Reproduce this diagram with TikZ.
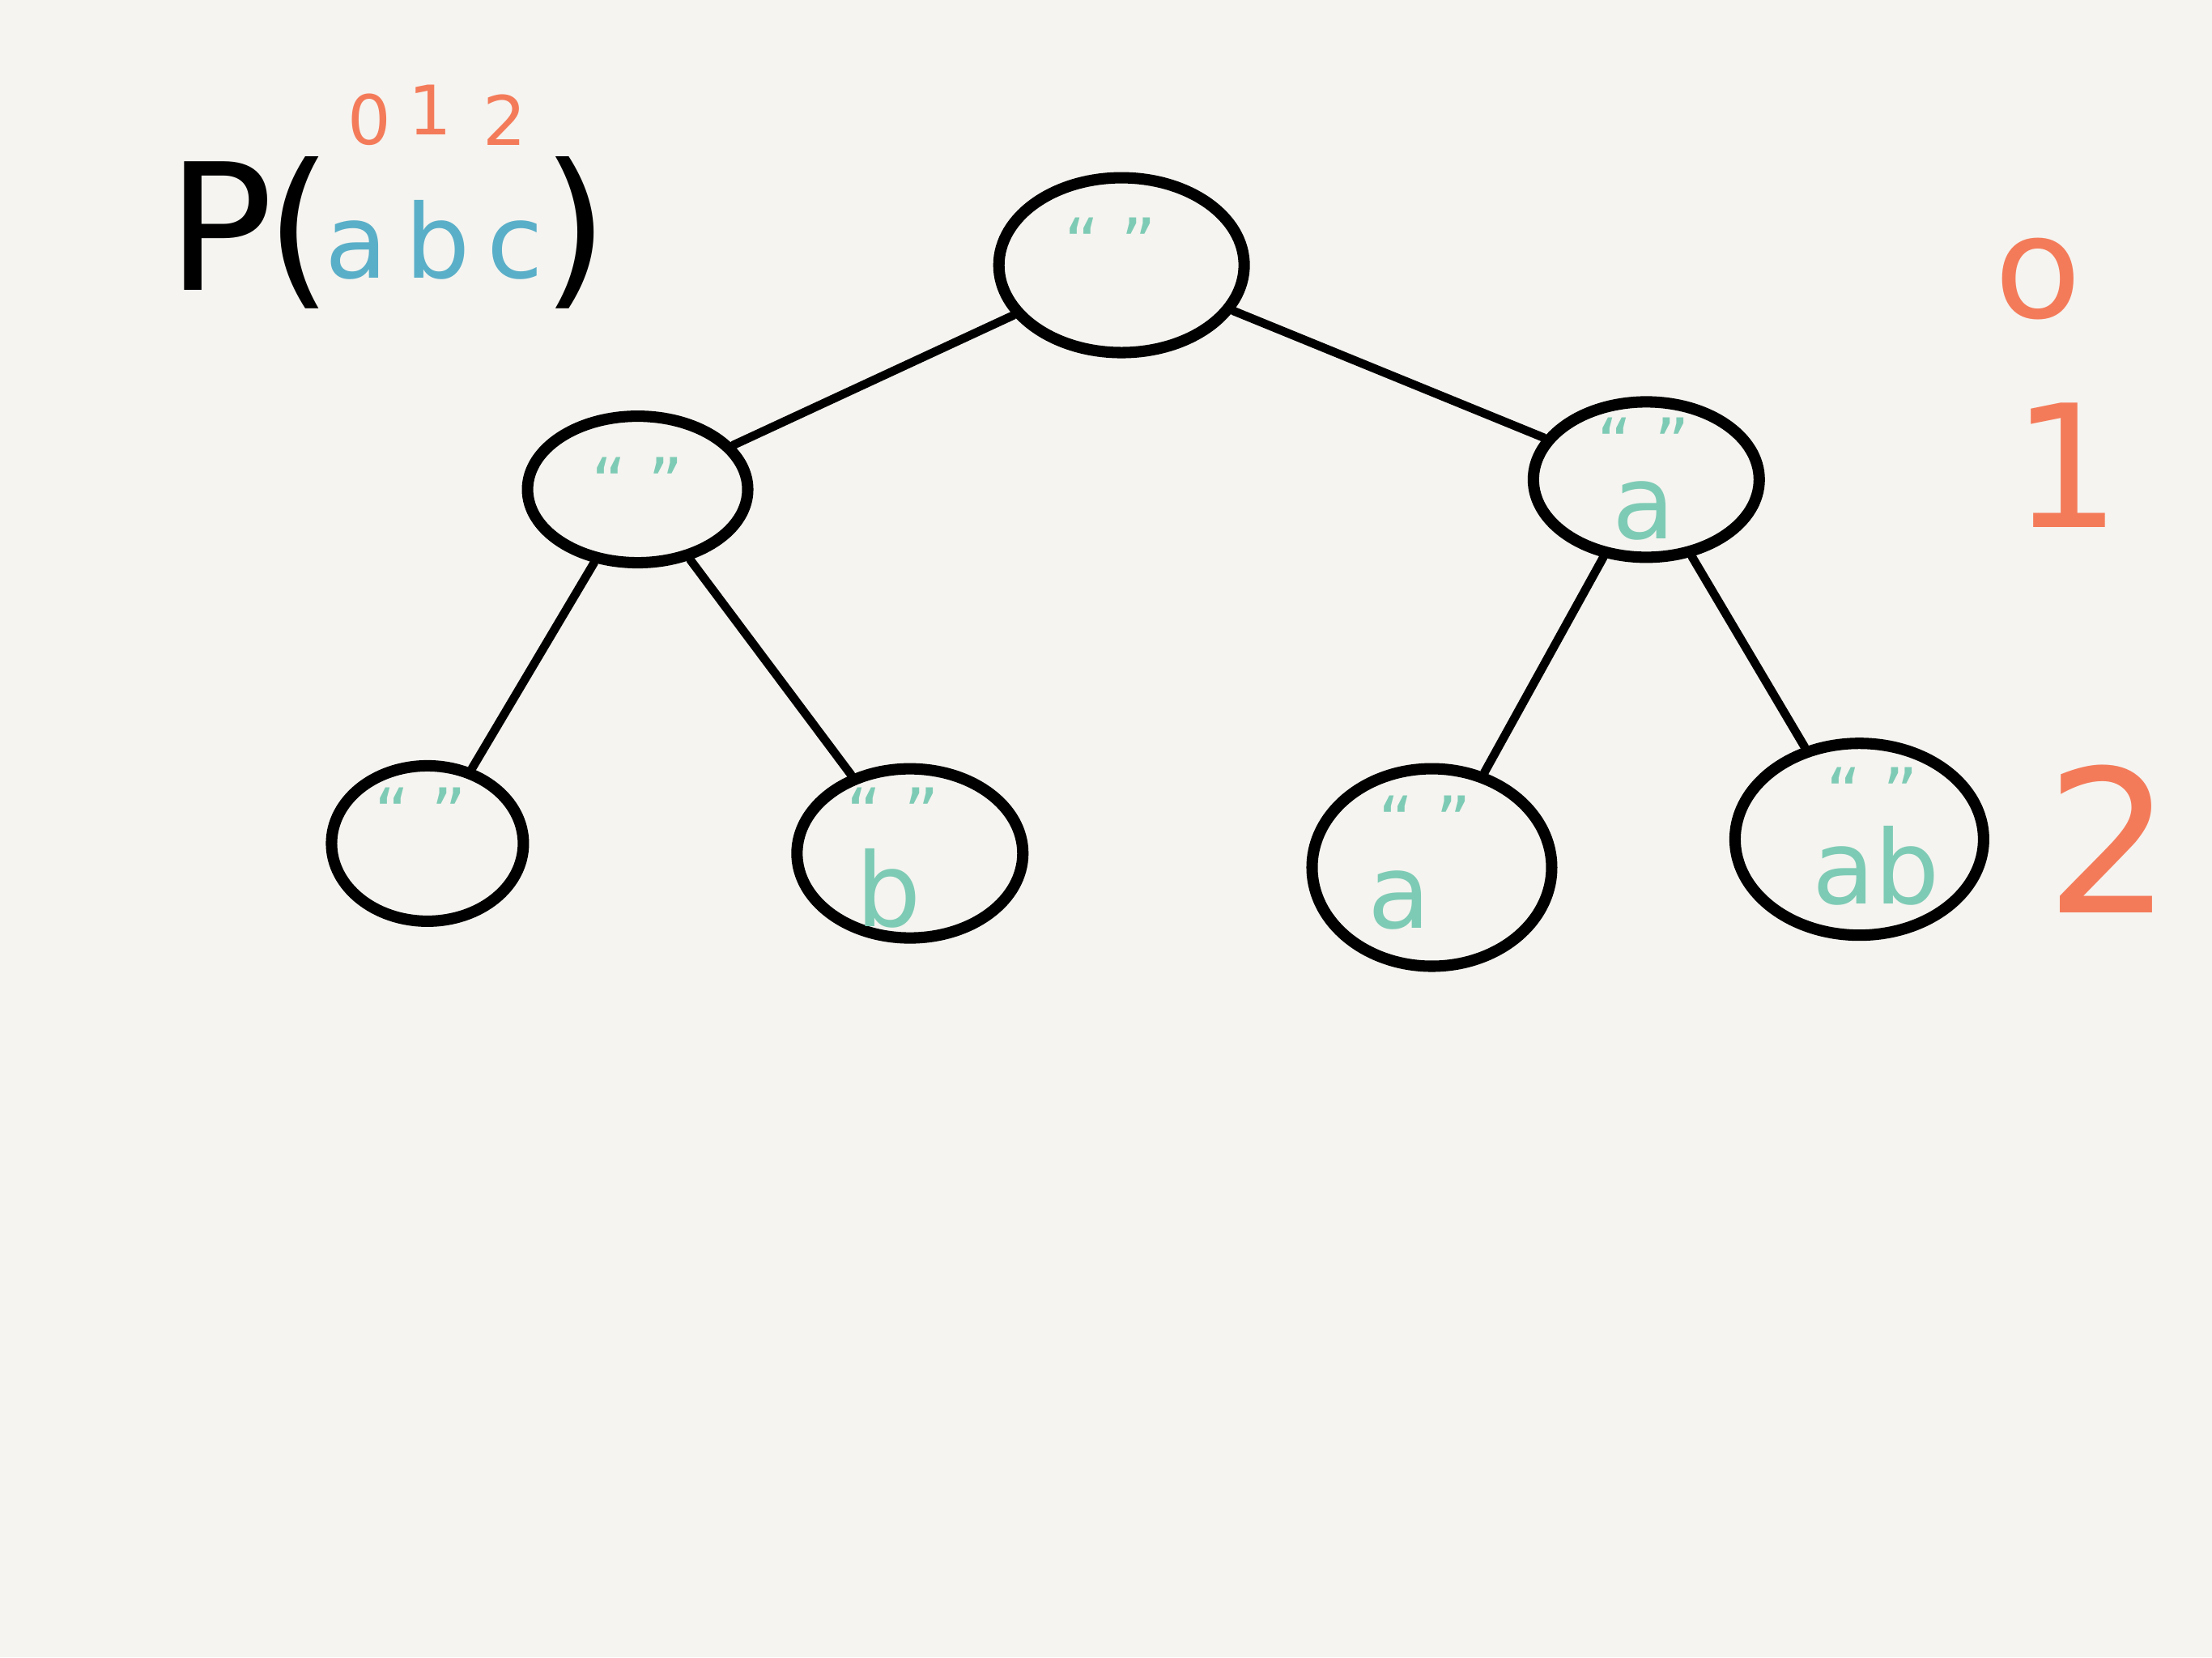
\documentclass[tikz,border=0pt]{standalone}
\usepackage{fontspec}
\setmainfont{DejaVu Sans}
\usetikzlibrary{shapes.geometric}
\definecolor{bg}{HTML}{F5F4F0}
\definecolor{grn}{HTML}{7ECBB5}
\definecolor{blu}{HTML}{5AAFC8}
\definecolor{org}{HTML}{F47B5A}
\tikzset{
 tnode/.style={ellipse,draw=black,line width=4pt,inner sep=0pt},
 edge/.style={line width=3pt,line cap=round},
 qt/.style={text=grn,font=\fontsize{24}{24}\selectfont,inner sep=0pt},
 lt/.style={text=grn,font=\fontsize{36}{36}\selectfont,inner sep=0pt},
 org/.style={text=org},
}
\begin{document}
\begin{tikzpicture}[x=0.017423cm,y=-0.017423cm]
\fill[bg] (0,0) rectangle (1568,1175);
\useasboundingbox (0,0) rectangle (1568,1175);
\node[tnode,minimum width=3.03cm,minimum height=2.16cm] (r) at (795,188) {};
\node[tnode,minimum width=2.72cm,minimum height=1.81cm] (l) at (452,347) {};
\node[tnode,minimum width=2.79cm,minimum height=1.92cm] (rr) at (1167,340) {};
\node[tnode,minimum width=2.37cm,minimum height=1.92cm] (ll) at (303,598) {};
\node[tnode,minimum width=2.79cm,minimum height=2.09cm] (lr) at (645,605) {};
\node[tnode,minimum width=2.96cm,minimum height=2.44cm] (rl) at (1015,615) {};
\node[tnode,minimum width=3.07cm,minimum height=2.37cm] (rrr) at (1318,595) {};
\draw[edge] (r) -- (l);
\draw[edge] (r) -- (rr);
\draw[edge] (l) -- (ll);
\draw[edge] (l) -- (lr);
\draw[edge] (rr) -- (rl);
\draw[edge] (rr) -- (rrr);
% quotes
\node[qt] (q1) at (787,172) {`` ''};
\node[qt] (q2) at (452,342) {`` ''};
\node[qt] (q3) at (1165,314) {`` ''};
\node[lt] (t3) at (1165,362) {a};
\node[qt] (q4) at (298,576) {`` ''};
\node[qt] (q5) at (633,576) {`` ''};
\node[lt] (t5) at (630,630) {b};
\node[qt] (q6) at (1010,582) {`` ''};
\node[lt] (t6) at (992,638) {a};
\node[qt] (q7) at (1327,562) {`` ''};
\node[lt] (t7) at (1330,614) {ab};
% title
\node[font=\fontsize{62}{62}\selectfont] (P) at (156,160) {P};
\node[font=\fontsize{60}{60}\selectfont,inner sep=0pt] (po) at (212,165) {(};
\node[font=\fontsize{60}{60}\selectfont,inner sep=0pt] (pc) at (408,165) {)};
\node[text=blu,font=\fontsize{36}{36}\selectfont,inner sep=0pt] (abc) at (308,170) {a\,b\,c};
\node[org,font=\fontsize{24}{24}\selectfont] (i0) at (262,85) {0};
\node[org,font=\fontsize{24}{24}\selectfont] (i1) at (305,78) {1};
\node[org,font=\fontsize{24}{24}\selectfont] (i2) at (358,85) {2};
% levels
\node[org,font=\fontsize{50}{50}\selectfont] (n0) at (1445,198) {o};
\node[org,font=\fontsize{60}{60}\selectfont] (n1) at (1465,330) {1};
\node[org,font=\fontsize{70}{70}\selectfont] (n2) at (1495,595) {2};
\end{tikzpicture}
\end{document}
